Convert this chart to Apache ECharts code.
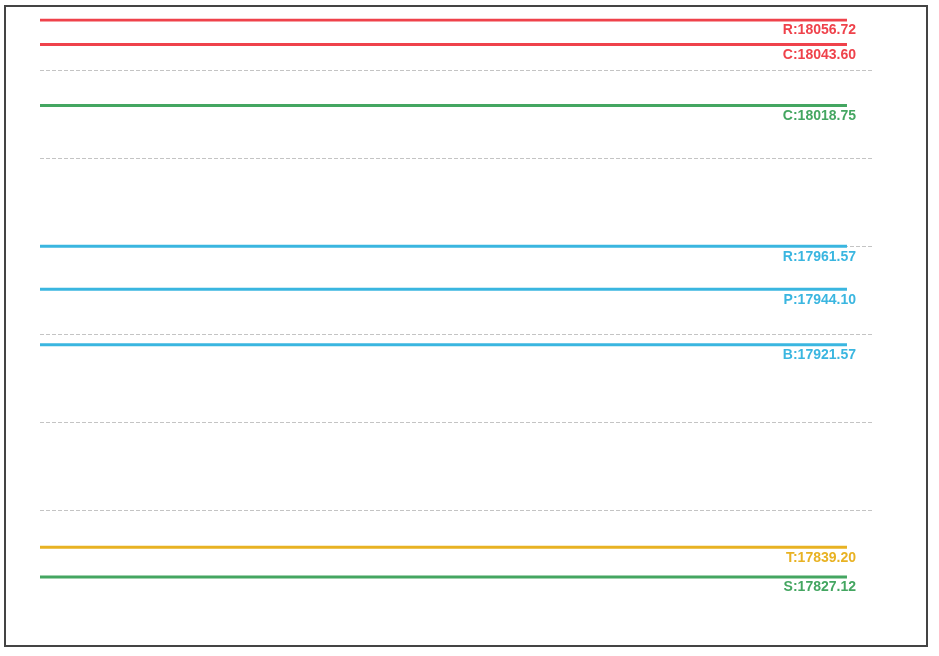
<!DOCTYPE html>
<html>
<head>
<meta charset="utf-8">
<script src="https://cdn.jsdelivr.net/npm/echarts@6/dist/echarts.min.js"></script>
<style>
  html, body { margin: 0; padding: 0; background: #fff; }
  #chart { width: 939px; height: 656px; }
</style>
</head>
<body>
<div id="chart"></div>
<script>
// ---- data ----
const levelTags   = ['R', 'C', 'C', 'R', 'P', 'B', 'T', 'S'];
const levelValues = [18056.72, 18043.60, 18018.75, 17961.57, 17944.10, 17921.57, 17839.20, 17827.12];
const levelGroups = ['red', 'red', 'green', 'blue', 'blue', 'blue', 'yellow', 'green'];

// ---- axis settings ----
const Y_INTERVAL = 35.78;
const Y_MIN = 498 * Y_INTERVAL;   // 17818.44
const Y_MAX = 18053.56;

// ---- styles ----
const palette = { red: '#ef424b', green: '#44a661', blue: '#3ab6e0', yellow: '#e8b223' };

const series = levelValues.map((v, i) => {
  const color = palette[levelGroups[i]];
  const yv = Math.min(v, Y_MAX);
  return {
    type: 'line',
    name: levelTags[i] + i,
    showSymbol: true,
    symbol: 'circle',
    symbolSize: 0,
    silent: true,
    lineStyle: { color: color, width: 3 },
    itemStyle: { color: color },
    data: [
      { value: [0, yv] },
      {
        value: [1, yv],
        label: {
          show: true,
          position: [9, 10.5],
          align: 'right',
          verticalAlign: 'middle',
          color: color,
          fontFamily: 'Liberation Sans, Arial, sans-serif',
          fontWeight: 'bold',
          fontSize: 14,
          formatter: () => levelTags[i] + ':' + v.toFixed(2)
        }
      }
    ]
  };
});

const chart = echarts.init(document.getElementById('chart'), null, { renderer: 'canvas' });
chart.setOption({
  animation: false,
  backgroundColor: '#fff',
  grid: { left: 40, right: 67, top: 20, bottom: 57.7 },
  xAxis: {
    type: 'value', min: 0, max: 1.031,
    show: true,
    axisLine: { show: false }, axisTick: { show: false }, axisLabel: { show: false },
    splitLine: { show: false }
  },
  yAxis: {
    type: 'value', min: Y_MIN, max: Y_MAX, interval: Y_INTERVAL,
    axisLine: { show: false }, axisTick: { show: false }, axisLabel: { show: false },
    splitLine: {
      show: true, showMinLine: false, showMaxLine: false,
      lineStyle: { color: '#c4c4c4', type: [4, 2], width: 1 }
    }
  },
  graphic: [{
    type: 'rect',
    silent: true,
    z: 100,
    shape: { x: 5, y: 6, width: 922, height: 640 },
    style: { fill: 'none', stroke: '#444', lineWidth: 2 }
  }],
  series: series
});
</script>
</body>
</html>
